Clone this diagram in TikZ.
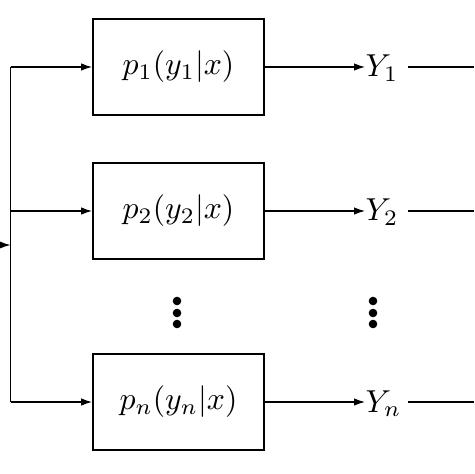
\documentclass[tikz,border=0pt]{standalone}
\usetikzlibrary{arrows.meta}
\begin{document}
\begin{tikzpicture}[x=0.315pt,y=-0.315pt,
  chan/.style={draw,line width=0.6pt,minimum width=53.87pt,minimum height=30.24pt,inner sep=0pt},
  wire/.style={line width=0.35pt},
  arr/.style={wire,-{Latex[length=3.4pt,width=2.3pt]}},
  outlbl/.style={inner sep=0pt,anchor=base west},
  dotc/.style={fill=black,circle,inner sep=0pt,minimum size=2.7pt}]
\useasboundingbox (0,0) rectangle (474,474);
% channel boxes
\node[chan] (b1) at (178.5,67) {$p_1(y_1|x)$};
\node[chan] (b2) at (178.5,211) {$p_2(y_2|x)$};
\node[chan] (bn) at (178.5,402) {$p_n(y_n|x)$};
% outputs
\node[outlbl] (y1) at (365,77) {$Y_1$};
\node[outlbl] (y2) at (365,221) {$Y_2$};
\node[outlbl] (yn) at (365,412) {$Y_n$};
% input tree
\coordinate (in) at (0,245);
\coordinate (junc) at (10.5,245);
\coordinate (t1) at (10.5,67);
\coordinate (t2) at (10.5,211);
\coordinate (tn) at (10.5,402);
\draw[wire] (t1) -- (tn);
\draw[arr] (in) -- (junc);
\draw[arr] (t1) -- (b1.west);
\draw[arr] (t2) -- (b2.west);
\draw[arr] (tn) -- (bn.west);
% box to output arrows
\draw[arr] (b1.east) -- (y1.west |- b1.east);
\draw[arr] (b2.east) -- (y2.west |- b2.east);
\draw[arr] (bn.east) -- (yn.west |- bn.east);
% output lines
\coordinate (o1) at (474,67);
\coordinate (o2) at (474,211);
\coordinate (on) at (474,402);
\coordinate (s1) at (408,67);
\coordinate (s2) at (408,211);
\coordinate (sn) at (408,402);
\draw[wire] (s1) -- (o1);
\draw[wire] (s2) -- (o2);
\draw[wire] (sn) -- (on);
% vertical dots
\node[dotc] (d1) at (177,301) {};
\node[dotc] (d2) at (177,313) {};
\node[dotc] (d3) at (177,324) {};
\node[dotc] (e1) at (373,301) {};
\node[dotc] (e2) at (373,313) {};
\node[dotc] (e3) at (373,324) {};
\end{tikzpicture}
\end{document}
